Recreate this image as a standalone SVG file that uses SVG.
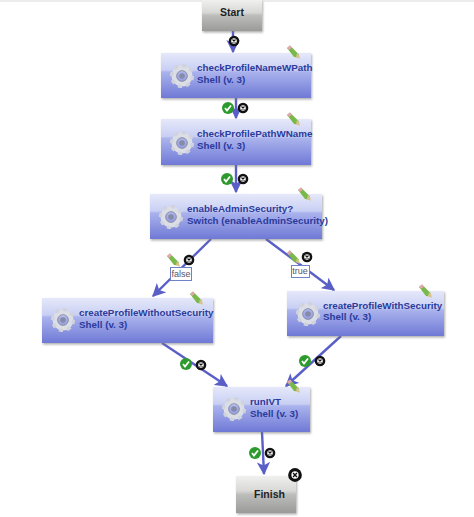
<svg xmlns="http://www.w3.org/2000/svg" xmlns:xlink="http://www.w3.org/1999/xlink" width="474" height="517" viewBox="0 0 474 517">
<style>
.box{fill:url(#blue);filter:url(#sh)}
.term{fill:url(#gray);filter:url(#sh)}
.t{font-family:"Liberation Sans",Arial,sans-serif;font-weight:bold;font-size:9.800px;fill:#2b3a9c}
.b{font-family:"Liberation Sans",Arial,sans-serif;font-weight:bold;font-size:10.500px;fill:#222;text-anchor:middle}
.c{stroke:#5a5fc8;stroke-width:2.4;fill:none;marker-end:url(#arr)}
.lab{fill:#fff;stroke:#6d82c8;stroke-width:1}
.lt{font-family:"Liberation Sans",Arial,sans-serif;font-size:9px;fill:#556;text-anchor:middle}
</style>
<defs>
<linearGradient id="blue" x1="0" y1="0" x2="0" y2="1"><stop offset="0" stop-color="#e6e9fa"/><stop offset=".38" stop-color="#c8cff3"/><stop offset=".42" stop-color="#aab3ec"/><stop offset="1" stop-color="#6f79d6"/></linearGradient>
<linearGradient id="gray" x1="0" y1="0" x2="0" y2="1"><stop offset="0" stop-color="#f0f0ee"/><stop offset=".4" stop-color="#d8d8d6"/><stop offset=".5" stop-color="#bdbdbb"/><stop offset="1" stop-color="#9a9a98"/></linearGradient>
<filter id="sh" x="-5%" y="-5%" width="110%" height="115%"><feDropShadow dx="1" dy="1.500" stdDeviation="1" flood-color="#777" flood-opacity=".6"/></filter>
<marker id="arr" viewBox="0 0 10 10" refX="9" refY="5" markerWidth="5.500" markerHeight="5.500" orient="auto"><path d="M0 0L10 5L0 10L2.500 5Z" fill="#5a5fc8"/></marker>
<g id="gear"><circle r="8" fill="none" stroke="#dcdee6" stroke-width="5"/><circle r="10.500" fill="none" stroke="#d0d2dc" stroke-width="3.200" stroke-dasharray="4 4.200"/><circle r="5.300" fill="none" stroke="#8d90a4" stroke-width="1"/><circle r="2.800" fill="#868aa4"/></g>
<g id="pen"><path d="M-6-4L-3-6.500L6 2.500L4.500 5.500L1 5Z" fill="#79b84a"/><path d="M-6-4L-3-6.500L-1-4.500L-4-2Z" fill="#e3a6b0"/><path d="M4 1L6 3L7 7L3 5Z" fill="#d9c28a"/></g>
<g id="ok"><circle r="6" fill="#2d9a2d"/><path d="M-3 0L-1 2.500L3-2.500" stroke="#fff" stroke-width="1.800" fill="none"/></g>
<g id="no"><circle r="5.300" fill="#111"/><circle r="2.800" fill="#fff"/><path d="M-1.500-1.500L1.500 1.500M1.500-1.500L-1.500 1.500" stroke="#111" stroke-width="1.100"/></g>
</defs>
<rect x="0" y="0" width="474" height="2" fill="#ececec"/>
<g id="connectors">
<path class="c" d="M233 31V52"/>
<path class="c" d="M236 98V118"/>
<path class="c" d="M236 165V192"/>
<path class="c" d="M211 239L153 296"/>
<path class="c" d="M266 239L334 290"/>
<path class="c" d="M162 343L227 386"/>
<path class="c" d="M341 336L286 386"/>
<path class="c" d="M262 432L264 474"/>
</g>
<g id="start"><rect class="term" x="202" y="0" width="60" height="31"/><text class="b" x="232" y="16">Start</text><use href="#no" x="234" y="41"/></g>
<g id="checkProfileNameWPath"><rect class="box" x="161" y="53" width="150" height="45"/><use href="#gear" x="182" y="76"/><text class="t" x="197" y="71">checkProfileNameWPath</text><text class="t" x="197" y="83">Shell (v. 3)</text><use href="#pen" x="293" y="52"/><use href="#ok" x="228" y="108"/><use href="#no" x="243" y="108"/></g>
<g id="checkProfilePathWName"><rect class="box" x="161" y="119" width="150" height="46"/><use href="#gear" x="182" y="143"/><text class="t" x="197" y="137">checkProfilePathWName</text><text class="t" x="197" y="149">Shell (v. 3)</text><use href="#pen" x="293" y="119"/><use href="#ok" x="227" y="179"/><use href="#no" x="243" y="179"/></g>
<g id="enableAdminSecurity"><rect class="box" x="150" y="194" width="172" height="45"/><use href="#gear" x="171" y="217"/><text class="t" x="187" y="212">enableAdminSecurity?</text><text class="t" x="187" y="224">Switch (enableAdminSecurity)</text><use href="#pen" x="304" y="194"/></g>
<g id="labelFalse"><rect class="lab" x="170.500" y="267.500" width="21" height="13"/><text class="lt" x="181" y="277">false</text><use href="#pen" x="173" y="260"/><use href="#no" x="189" y="260"/></g>
<g id="labelTrue"><rect class="lab" x="291.500" y="265.500" width="18" height="12"/><text class="lt" x="300" y="274">true</text><use href="#pen" x="293" y="257"/><use href="#no" x="307" y="257"/></g>
<g id="createProfileWithoutSecurity"><rect class="box" x="42" y="298" width="171" height="45"/><use href="#gear" x="63" y="320"/><text class="t" x="79" y="316">createProfileWithoutSecurity</text><text class="t" x="79" y="328">Shell (v. 3)</text><use href="#pen" x="196" y="298"/><use href="#ok" x="186" y="364"/><use href="#no" x="201" y="365"/></g>
<g id="createProfileWithSecurity"><rect class="box" x="287" y="291" width="157" height="45"/><use href="#gear" x="308" y="314"/><text class="t" x="323" y="309">createProfileWithSecurity</text><text class="t" x="323" y="320">Shell (v. 3)</text><use href="#pen" x="425" y="291"/><use href="#ok" x="305" y="361"/><use href="#no" x="320" y="361"/></g>
<g id="runIVT"><rect class="box" x="213" y="387" width="97" height="45"/><use href="#gear" x="234" y="409"/><text class="t" x="250" y="405">runIVT</text><text class="t" x="250" y="417">Shell (v. 3)</text><use href="#pen" x="293" y="386"/><use href="#ok" x="255" y="453"/><use href="#no" x="270" y="453"/></g>
<g id="finish"><rect class="term" x="236" y="476" width="60" height="37"/><text class="b" x="254" y="498" style="text-anchor:start">Finish</text><g transform="translate(295 475) scale(1.300)"><circle r="5.300" fill="#111"/><circle r="2.800" fill="#fff"/><path d="M-1.500-1.500L1.500 1.500M1.500-1.500L-1.500 1.500" stroke="#111" stroke-width="1.100"/></g></g>
</svg>
